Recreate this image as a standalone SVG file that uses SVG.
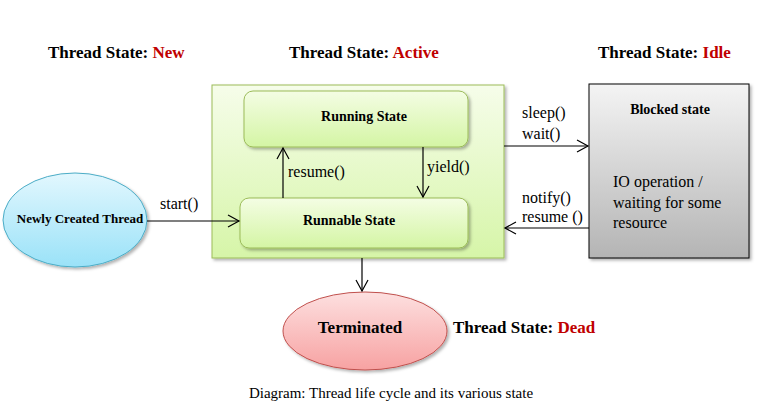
<svg xmlns="http://www.w3.org/2000/svg" width="773" height="405" viewBox="0 0 773 405">
<style>
text{font-family:"Liberation Serif","Times New Roman","DejaVu Serif",serif}
.h{font-size:17px;font-weight:bold;fill:#000}
.r{fill:#c00000}
.n{font-size:14px;font-weight:bold;fill:#000}
.s{font-size:13px}
.l{font-size:16px;fill:#000}
.c{font-size:15px;fill:#000}
.e{fill:none;stroke:#000;stroke-width:1.2}
</style>
<defs>
<linearGradient id="gGreen" x1="0" y1="0" x2="0" y2="1"><stop offset="0" stop-color="#f4fde4"/><stop offset="1" stop-color="#d4f5a4"/></linearGradient>
<linearGradient id="gBox" x1="0" y1="0" x2="0" y2="1"><stop offset="0" stop-color="#f6fdea"/><stop offset="1" stop-color="#d6f5a8"/></linearGradient>
<linearGradient id="gBlue" x1="0" y1="0" x2="0" y2="1"><stop offset="0" stop-color="#e2f7fe"/><stop offset="1" stop-color="#9ae2f8"/></linearGradient>
<linearGradient id="gRed" x1="0" y1="0" x2="0" y2="1"><stop offset="0" stop-color="#fde0e0"/><stop offset="1" stop-color="#f7a2a2"/></linearGradient>
<linearGradient id="gGray" x1="0" y1="0" x2="0" y2="1"><stop offset="0" stop-color="#f4f4f4"/><stop offset="1" stop-color="#b4b4b4"/></linearGradient>
<filter id="sh" x="-10%" y="-10%" width="130%" height="130%"><feDropShadow dx="2" dy="2" stdDeviation="1.5" flood-color="#000" flood-opacity="0.3"/></filter>
<marker id="arr" markerWidth="14" markerHeight="14" refX="12" refY="7" orient="auto" markerUnits="userSpaceOnUse"><path d="M1,1 L12,7 L1,13" fill="none" stroke="#000" stroke-width="1.2"/></marker>
</defs>

<text class="h" x="48" y="58">Thread State: <tspan class="r">New</tspan></text>
<text class="h" x="289" y="58">Thread State: <tspan class="r">Active</tspan></text>
<text class="h" x="598" y="58">Thread State: <tspan class="r">Idle</tspan></text>

<g id="active">
<rect x="212" y="85" width="292" height="173" fill="url(#gBox)" stroke="#9bbb59" stroke-width="1" filter="url(#sh)"/>
</g>
<g id="running">
<rect x="244" y="91" width="224" height="56" rx="9" fill="url(#gGreen)" stroke="#9bbb59" stroke-width="1" filter="url(#sh)"/>
<text class="n" x="364" y="121" text-anchor="middle">Running State</text>
</g>
<g id="runnable">
<rect x="240" y="198" width="228" height="50" rx="9" fill="url(#gGreen)" stroke="#9bbb59" stroke-width="1" filter="url(#sh)"/>
<text class="n" x="349" y="225" text-anchor="middle">Runnable State</text>
</g>
<g id="blocked">
<rect x="589" y="84" width="160" height="174" fill="url(#gGray)" stroke="#000" stroke-width="1" filter="url(#sh)"/>
<text class="n" x="670" y="114" text-anchor="middle">Blocked state</text>
<text class="l" x="613" y="187">IO operation /</text>
<text class="l" x="613" y="208">waiting for some</text>
<text class="l" x="613" y="228">resource</text>
</g>
<g id="newly">
<ellipse cx="75" cy="220" rx="72" ry="47" fill="url(#gBlue)" stroke="#4bacc6" stroke-width="1" filter="url(#sh)"/>
<text class="n s" x="80" y="223" text-anchor="middle">Newly Created Thread</text>
</g>
<g id="terminated">
<ellipse cx="365" cy="331" rx="82" ry="39" fill="url(#gRed)" stroke="#c0504d" stroke-width="1" filter="url(#sh)"/>
<text class="h" x="360" y="333" text-anchor="middle">Terminated</text>
</g>
<text class="h" x="453" y="333">Thread State: <tspan class="r">Dead</tspan></text>

<g id="connectors">
<line class="e" x1="147" y1="221" x2="239" y2="221" marker-end="url(#arr)"/>
<line class="e" x1="283" y1="198" x2="283" y2="148" marker-end="url(#arr)"/>
<line class="e" x1="423" y1="147" x2="423" y2="197" marker-end="url(#arr)"/>
<line class="e" x1="504" y1="146" x2="588" y2="146" marker-end="url(#arr)"/>
<line class="e" x1="589" y1="228" x2="505" y2="228" marker-end="url(#arr)"/>
<line class="e" x1="362" y1="258" x2="362" y2="291" marker-end="url(#arr)"/>
<text class="l" x="160" y="209">start()</text>
<text class="l" x="288" y="177">resume()</text>
<text class="l" x="427" y="172">yield()</text>
<text class="l" x="522" y="118">sleep()</text>
<text class="l" x="522" y="139">wait()</text>
<text class="l" x="522" y="203">notify()</text>
<text class="l" x="522" y="222">resume ()</text>
</g>

<text class="c" x="391" y="398" text-anchor="middle">Diagram: Thread life cycle and its various state</text>
</svg>
